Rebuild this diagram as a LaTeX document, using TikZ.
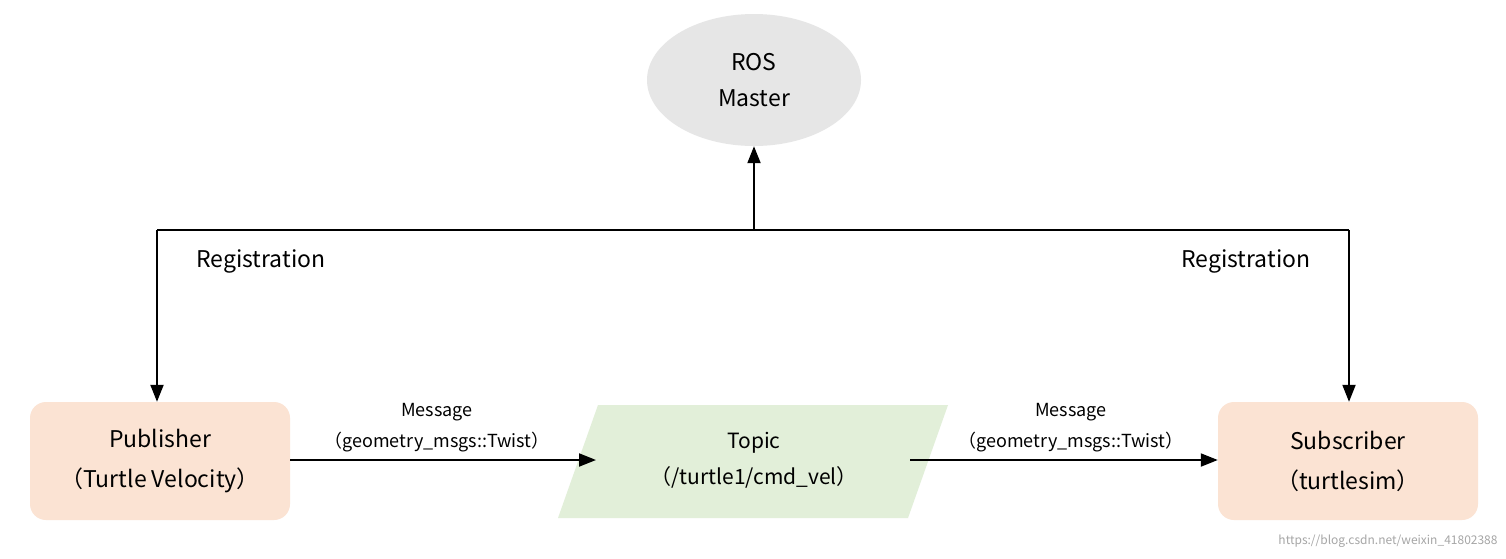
\documentclass[tikz,border=0pt]{standalone}
\usepackage{fontspec}
\setmainfont{Noto Sans CJK SC}
\usetikzlibrary{arrows.meta,shapes.geometric}
\definecolor{peach}{HTML}{FBE3D3}
\definecolor{lgreen}{HTML}{E2EFD9}
\definecolor{lgray}{HTML}{E6E6E6}
\begin{document}
\begin{tikzpicture}[x=1pt,y=-1pt,
  conn/.style={line width=2pt,-{Triangle[length=17pt,width=13pt]}},
  box/.style={rounded corners=16pt,fill=peach,minimum width=260pt,minimum height=118pt,align=center,font=\fontsize{23}{40}\selectfont},
  lbl/.style={font=\fontsize{23}{26}\selectfont},
  msg/.style={font=\fontsize{18}{31}\selectfont,align=center}]
\useasboundingbox (0,0) rectangle (1506,558);
\fill[white] (0,0) rectangle (1506,558);
\node[ellipse,fill=lgray,minimum width=214pt,minimum height=132pt,align=center,font=\fontsize{23}{36}\selectfont] (master) at (754,80) {ROS\\Master};
\node[box] (pub) at (160,461) {Publisher\\（Turtle Velocity）};
\node[box] (sub) at (1348,461) {Subscriber\\（turtlesim）};
\fill[lgreen] (598,405) -- (948,405) -- (908,518) -- (558,518) -- cycle;
\node[align=center,font=\fontsize{21}{36}\selectfont] (topic) at (754,460) {Topic\\（/turtle1/cmd\_vel）};
\coordinate (tl) at (596,460);
\coordinate (tr) at (910,460);
\coordinate (j) at (754,230);
\coordinate (jl) at (157,230);
\coordinate (jr) at (1349,230);
\draw[line width=2pt] (jl) -- (jr);
\draw[conn] (j) -- (master);
\draw[conn] (jl) -- (jl|-pub.north);
\draw[conn] (jr) -- (jr|-sub.north);
\draw[conn] (pub.east|-tl) -- (tl);
\draw[conn] (tr) -- (sub.west|-tr);
\node[lbl] (r1) at (261,261) {Registration};
\node[lbl] (r2) at (1246,261) {Registration};
\node[msg] (m1) at (437,428) {Message\\（geometry\_msgs::Twist）};
\node[msg] (m2) at (1071,428) {Message\\（geometry\_msgs::Twist）};
\node[font=\fontsize{12}{14}\selectfont,text=black!35] (wm) at (1388,541) {https://blog.csdn.net/weixin\_41802388};
\end{tikzpicture}
\end{document}
